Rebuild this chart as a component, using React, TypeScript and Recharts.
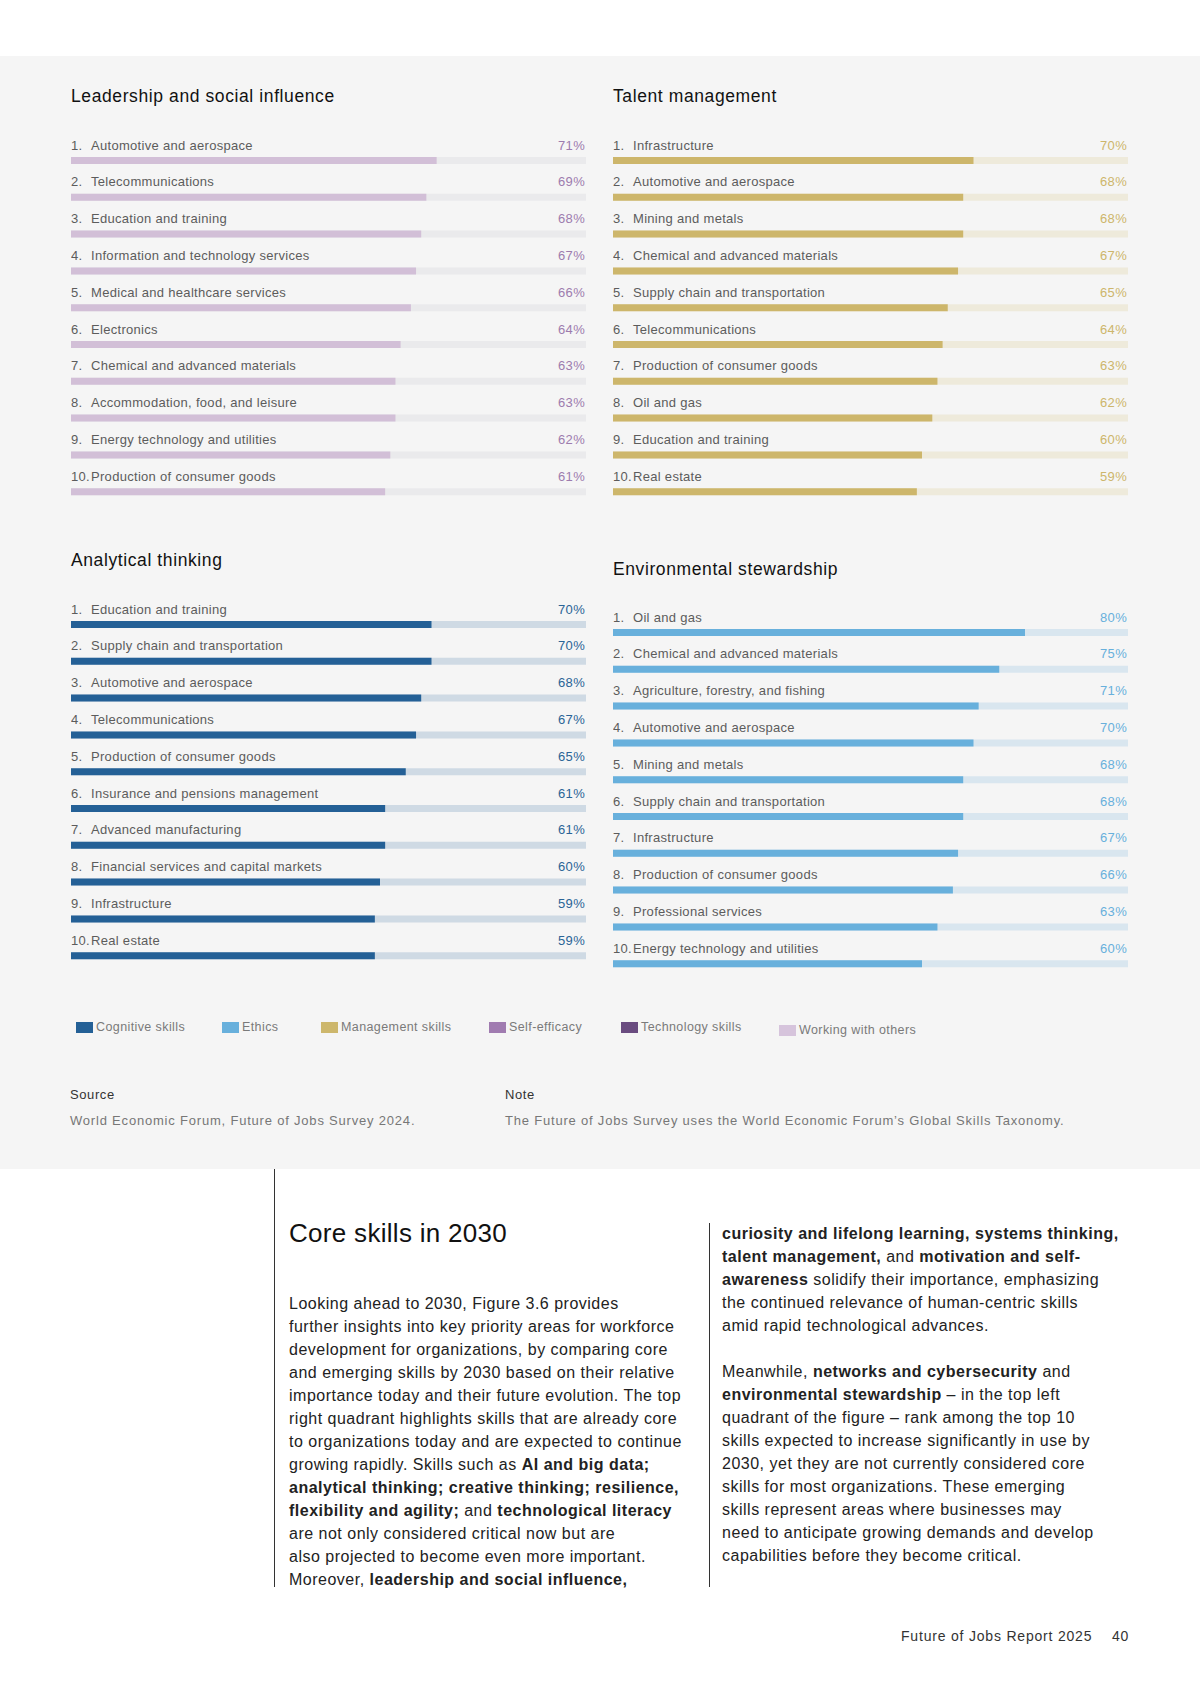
import React from 'react'
import { BarChart, Bar, XAxis, YAxis, LabelList } from 'recharts'

// panel data
const leadershipNames = [
  'Automotive and aerospace',
  'Telecommunications',
  'Education and training',
  'Information and technology services',
  'Medical and healthcare services',
  'Electronics',
  'Chemical and advanced materials',
  'Accommodation, food, and leisure',
  'Energy technology and utilities',
  'Production of consumer goods',
]
const leadershipValues = [71, 69, 68, 67, 66, 64, 63, 63, 62, 61]

const talentNames = [
  'Infrastructure',
  'Automotive and aerospace',
  'Mining and metals',
  'Chemical and advanced materials',
  'Supply chain and transportation',
  'Telecommunications',
  'Production of consumer goods',
  'Oil and gas',
  'Education and training',
  'Real estate',
]
const talentValues = [70, 68, 68, 67, 65, 64, 63, 62, 60, 59]

const analyticalNames = [
  'Education and training',
  'Supply chain and transportation',
  'Automotive and aerospace',
  'Telecommunications',
  'Production of consumer goods',
  'Insurance and pensions management',
  'Advanced manufacturing',
  'Financial services and capital markets',
  'Infrastructure',
  'Real estate',
]
const analyticalValues = [70, 70, 68, 67, 65, 61, 61, 60, 59, 59]

const environmentNames = [
  'Oil and gas',
  'Chemical and advanced materials',
  'Agriculture, forestry, and fishing',
  'Automotive and aerospace',
  'Mining and metals',
  'Supply chain and transportation',
  'Infrastructure',
  'Production of consumer goods',
  'Professional services',
  'Energy technology and utilities',
]
const environmentValues = [80, 75, 71, 70, 68, 68, 67, 66, 63, 60]

const legendLabels = ['Cognitive skills', 'Ethics', 'Management skills', 'Self-efficacy', 'Technology skills', 'Working with others']
const legendColors = ['#246096', '#68b0dc', '#cdb76c', '#a07bb0', '#6a4c80', '#d6c4dc']

const FONT = '"Liberation Sans", Arial, sans-serif'
const CHART_W = 515
const TOP_PAD = 22
const CHART_H = 368 + TOP_PAD

function Panel({ title, names, values, color, track, pctColor, left, top, titleTop }: any) {
  const data = names.map((n: string, i: number) => ({ name: n, value: values[i] }))

  const renderLabel = (props: any) => {
    const { x, y, index, value } = props
    const ty = Number(y) - 12
    return (
      <g key={'l' + index}>
        <text x={Number(x)} y={ty} fontSize={13} fill="#5c5c5c" fontFamily={FONT} dominantBaseline="central" letterSpacing={0.2}>
          {index + 1}.
        </text>
        <text x={Number(x) + 20} y={ty} fontSize={13} fill="#5c5c5c" fontFamily={FONT} dominantBaseline="central" letterSpacing={0.3}>
          {names[index]}
        </text>
        <text x={CHART_W - 1} y={ty} fontSize={13} fill={pctColor} fontFamily={FONT} dominantBaseline="central" textAnchor="end" letterSpacing={0.3}>
          {value}%
        </text>
      </g>
    )
  }

  return (
    <>
      <div style={{ position: 'absolute', left, top: titleTop - 11, fontSize: 17.5, color: '#111', fontFamily: FONT, lineHeight: '22px', letterSpacing: 0.6, whiteSpace: 'nowrap' }}>
        {title}
      </div>
      <div style={{ position: 'absolute', left, top: top - TOP_PAD }}>
        <BarChart width={CHART_W} height={CHART_H} data={data} layout="vertical" margin={{ top: TOP_PAD, right: 0, bottom: 0, left: 0 }}>
          <XAxis type="number" domain={[0, 100]} hide />
          <YAxis type="category" dataKey="name" hide />
          <Bar dataKey="value" fill={color} barSize={7} background={{ fill: track }} isAnimationActive={false}>
            <LabelList dataKey="value" content={renderLabel} />
          </Bar>
        </BarChart>
      </div>
    </>
  )
}

const leftLines: any[] = [
  ['Looking ahead to 2030, Figure 3.6 provides'],
  ['further insights into key priority areas for workforce'],
  ['development for organizations, by comparing core'],
  ['and emerging skills by 2030 based on their relative'],
  ['importance today and their future evolution. The top'],
  ['right quadrant highlights skills that are already core'],
  ['to organizations today and are expected to continue'],
  ['growing rapidly. Skills such as ', <b key="a">AI and big data;</b>],
  [<b key="b">analytical thinking; creative thinking; resilience,</b>],
  [<b key="c">flexibility and agility;</b>, ' and ', <b key="d">technological literacy</b>],
  ['are not only considered critical now but are'],
  ['also projected to become even more important.'],
  ['Moreover, ', <b key="e">leadership and social influence,</b>],
]

const rightLines: any[] = [
  [<b key="a">curiosity and lifelong learning, systems thinking,</b>],
  [<b key="b">talent management,</b>, ' and ', <b key="c">motivation and self-</b>],
  [<b key="d">awareness</b>, ' solidify their importance, emphasizing'],
  ['the continued relevance of human-centric skills'],
  ['amid rapid technological advances.'],
  ['\u00a0'],
  ['Meanwhile, ', <b key="e">networks and cybersecurity</b>, ' and'],
  [<b key="f">environmental stewardship</b>, ' \u2013 in the top left'],
  ['quadrant of the figure \u2013 rank among the top 10'],
  ['skills expected to increase significantly in use by'],
  ['2030, yet they are not currently considered core'],
  ['skills for most organizations. These emerging'],
  ['skills represent areas where businesses may'],
  ['need to anticipate growing demands and develop'],
  ['capabilities before they become critical.'],
]

const legendX = [76, 222, 321, 489, 621, 779]

export default function App() {
  const bodyStyle: any = { position: 'absolute', fontSize: 16, lineHeight: '23px', color: '#222', fontFamily: FONT, whiteSpace: 'nowrap', letterSpacing: 0.5 }
  return (
    <div style={{ position: 'absolute', left: 0, top: 0, width: 1200, height: 1696, background: '#fff', fontFamily: FONT, overflow: 'hidden' }}>
      <div style={{ position: 'absolute', left: 0, top: 56, width: 1200, height: 1113, background: '#f5f5f5' }} />

      <Panel title="Leadership and social influence" names={leadershipNames} values={leadershipValues}
        color="#d2bfd7" track="#eaeaec" pctColor="#9d7cae" left={71} top={142} titleTop={96} />
      <Panel title="Talent management" names={talentNames} values={talentValues}
        color="#cdb66b" track="#eeeadb" pctColor="#cdb66b" left={613} top={142} titleTop={96} />
      <Panel title="Analytical thinking" names={analyticalNames} values={analyticalValues}
        color="#246096" track="#cfdae4" pctColor="#2a6496" left={71} top={606} titleTop={560} />
      <Panel title="Environmental stewardship" names={environmentNames} values={environmentValues}
        color="#68b0dc" track="#d9e6ef" pctColor="#68b0dc" left={613} top={614} titleTop={569} />

      {legendLabels.map((l, i) => (
        <div key={l} style={{ position: 'absolute', left: legendX[i], top: i === 5 ? 1023 : 1020, display: 'flex', alignItems: 'center', fontSize: 12.5, color: '#7a7a7a', letterSpacing: 0.4, whiteSpace: 'nowrap' }}>
          <span style={{ display: 'inline-block', width: 17, height: 11, background: legendColors[i], marginRight: 3 }} />
          <span>{l}</span>
        </div>
      ))}

      <div style={{ position: 'absolute', left: 70, top: 1087, fontSize: 13, color: '#333', letterSpacing: 0.6 }}>Source</div>
      <div style={{ position: 'absolute', left: 70, top: 1113, fontSize: 13, color: '#777', letterSpacing: 0.8, whiteSpace: 'nowrap' }}>World Economic Forum, Future of Jobs Survey 2024.</div>
      <div style={{ position: 'absolute', left: 505, top: 1087, fontSize: 13, color: '#333', letterSpacing: 0.6 }}>Note</div>
      <div style={{ position: 'absolute', left: 505, top: 1113, fontSize: 13, color: '#777', letterSpacing: 0.8, whiteSpace: 'nowrap' }}>The Future of Jobs Survey uses the World Economic Forum’s Global Skills Taxonomy.</div>

      <div style={{ position: 'absolute', left: 274, top: 1169, width: 1, height: 418, background: '#333' }} />
      <div style={{ position: 'absolute', left: 709, top: 1223, width: 1, height: 364, background: '#333' }} />

      <div style={{ position: 'absolute', left: 289, top: 1217, fontSize: 26, color: '#111', lineHeight: '32px', letterSpacing: 0.3 }}>Core skills in 2030</div>
      <div style={{ ...bodyStyle, left: 289, top: 1292 }}>
        {leftLines.map((ln, i) => <div key={i}>{ln}</div>)}
      </div>
      <div style={{ ...bodyStyle, left: 722, top: 1222 }}>
        {rightLines.map((ln, i) => <div key={i}>{ln}</div>)}
      </div>

      <div style={{ position: 'absolute', left: 901, top: 1628, fontSize: 14, color: '#333', letterSpacing: 0.8, whiteSpace: 'nowrap' }}>Future of Jobs Report 2025</div>
      <div style={{ position: 'absolute', left: 1112, top: 1628, fontSize: 14, color: '#333', letterSpacing: 0.8 }}>40</div>
    </div>
  )
}
